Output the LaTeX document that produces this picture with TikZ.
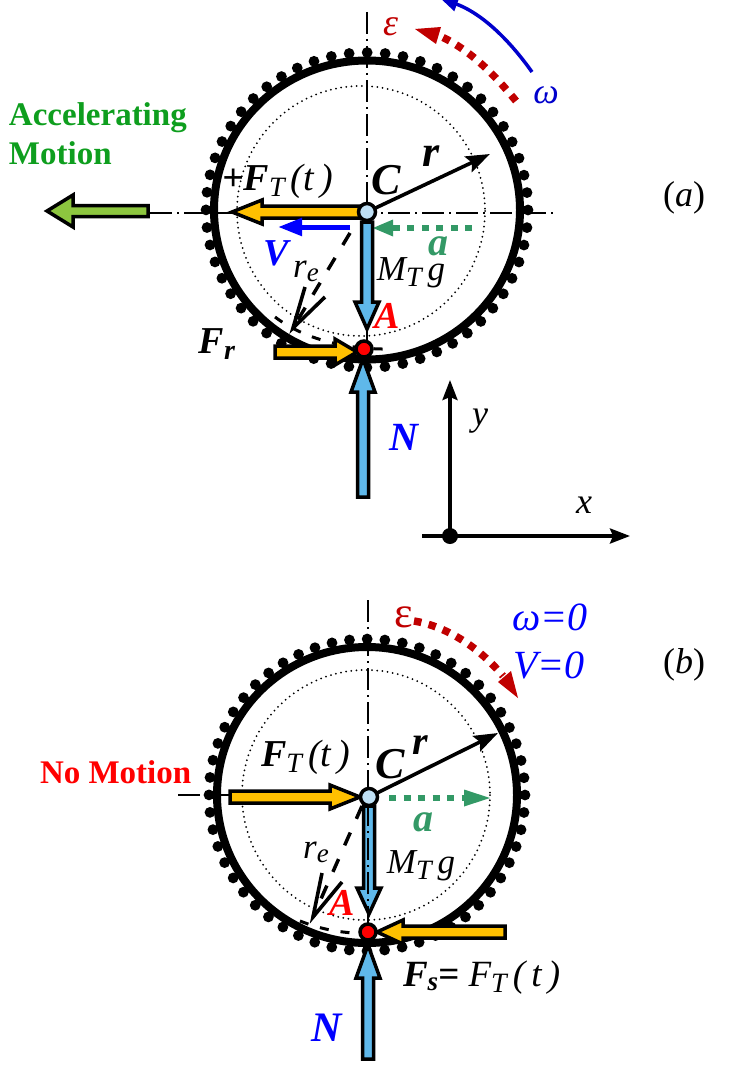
\documentclass[tikz,border=0pt]{standalone}
\usepackage{fontspec}
\setmainfont{Liberation Serif}
\usetikzlibrary{calc,arrows.meta}
\definecolor{orng}{HTML}{FFC000}
\definecolor{skyb}{HTML}{5FB8EA}
\definecolor{palec}{HTML}{BFE0F5}
\definecolor{lgreen}{HTML}{8DC63F}
\definecolor{sgreen}{HTML}{339966}
\definecolor{txgreen}{HTML}{0E9E1E}
\definecolor{dred}{HTML}{C00000}
\definecolor{wblue}{HTML}{0000CC}
\newcommand{\fsz}[1]{\fontsize{#1}{#1}\selectfont}
\newcommand{\lsub}[1]{\raisebox{-6pt}{\fsz{28}\mdseries #1}}
% block arrow: from, to, fill, half shaft, half head, head length
\newcommand{\blockarrow}[6]{%
  \coordinate (hb) at ($(#2)!#6pt!(#1)$);
  \draw[blockline,fill=#3]
    ($(#1)!#4pt!90:(#2)$) -- ($(hb)!#4pt!90:(#2)$) -- ($(hb)!#5pt!90:(#2)$) -- (#2)
    -- ($(hb)!#5pt!-90:(#2)$) -- ($(hb)!#4pt!-90:(#2)$) -- ($(#1)!#4pt!-90:(#2)$) -- cycle;}
\tikzset{
  blockline/.style={draw=black,line width=3.5pt,line join=miter,miter limit=6},
  axisline/.style={line width=1.4pt,dash pattern=on 22pt off 5pt on 2pt off 5pt},
  rimline/.style={line width=8pt},
  innerdots/.style={line width=2pt,line cap=round,dash pattern=on 0pt off 5.2pt},
  rarrow/.style={line width=3.6pt,-{Stealth[length=24pt,width=17pt,inset=4pt]},shorten <=2pt},
  dashline/.style={line width=3.5pt,dash pattern=on 14pt off 15pt},
  arcdash/.style={line width=3pt,dash pattern=on 9pt off 12pt},
  barbs/.style={line width=3.6pt,line join=miter},
  txt/.style={inner sep=0pt,outer sep=0pt,anchor=center},
  hub/.style={fill=palec,draw=black,line width=3.5pt},
  contact/.style={fill=red,draw=black,line width=3.5pt},
  axisarrow/.style={line width=3.4pt,-{Stealth[length=20pt,width=15pt,inset=3pt]}},
  gdash/.style={sgreen,line width=6.5pt,dash pattern=on 7pt off 7.5pt},
  rdash/.style={dred,line width=7.5pt,dash pattern=on 7.5pt off 7.5pt},
}
\begin{document}
\begin{tikzpicture}[x=1pt,y=-1pt]
\useasboundingbox (0,0) rectangle (747,1065);
\clip (0,0) rectangle (747,1065);
%% ---------- wheel (a)
\coordinate (Ca) at (367,212);
\coordinate (Aa) at (364,349);
\foreach \t in {0,6.43,...,359} \fill ($(367,210)+(\t:161 and 157.5)$) circle (5.4);
\draw[rimline] (367,210) ellipse (153 and 149.5);
\draw[innerdots] (361,211) ellipse (124 and 125);
\coordinate (hL) at (150,213); \coordinate (hR) at (555,213);
\coordinate (vT) at (367,12); \coordinate (vB) at (367,345);
\draw[axisline] (hL) -- (hR);
\draw[axisline] (vT) -- (vB);
\coordinate (rTa) at (490,154);
\draw[rarrow] (Ca) -- (rTa);
% green accelerating arrow
\coordinate (g1) at (148,211); \coordinate (g2) at (47,211);
\blockarrow{g1}{g2}{lgreen}{5.5}{16}{26}
% ft orange
\coordinate (ft1) at (367,212); \coordinate (ft2) at (232,212);
\blockarrow{ft1}{ft2}{orng}{6}{12}{30}
% V
\coordinate (v1) at (350,227); \coordinate (v2) at (278,227);
\draw[blue,line width=5pt,-{Triangle[length=24pt,width=17pt]}] (v1) -- (v2);
% a
\coordinate (aa1) at (472,228); \coordinate (aa2) at (373,228);
\draw[gdash] (aa1) -- ($(aa2)!20pt!(aa1)$);
\fill[sgreen] (aa2) -- ($(aa2)+(20,-8.5)$) -- ($(aa2)+(20,8.5)$) -- cycle;
% Mg
\coordinate (m1) at (367,222); \coordinate (m2) at (367,329);
\blockarrow{m1}{m2}{skyb}{5.5}{12}{27}
% re
\coordinate (re1) at (350,233); \coordinate (re2) at (293,328);
\coordinate (reb1) at (305,287); \coordinate (reb2) at (325,297);
\draw[dashline] (re1) -- (re2);
\draw[barbs] (reb1) -- (re2) -- (reb2);
\draw[arcdash] (275,317) .. controls (300,336) and (340,350) .. (392,349);
% Fr
\coordinate (fr1) at (275,352); \coordinate (fr2) at (357,352);
\blockarrow{fr1}{fr2}{orng}{6}{13}{22}
% N
\coordinate (n1) at (363,497); \coordinate (n2) at (363,359);
\blockarrow{n1}{n2}{skyb}{5.5}{12}{33}
\draw[contact] (Aa) circle (8);
\draw[hub] (Ca) circle (8.5);
% omega, epsilon
\coordinate (w1) at (532,72); \coordinate (w2) at (440,-2);
\draw[wblue,line width=3.5pt,-{Triangle[length=18pt,width=14pt]}] (w1) .. controls (505,34) and (478,12) .. (w2);
\coordinate (e1) at (516,101); \coordinate (e2) at (415,29);
\draw[rdash] (e1) .. controls (494,74) and (470,50) .. (440,36);
\fill[dred] (e2) -- (441,27) -- (436,44) -- cycle;
%% texts a
\node[txt,txgreen,anchor=base west] (acc) at (9,125) {\fsz{33}\bfseries Accelerating};
\node[txt,txgreen,anchor=base west] (mot) at (9,164) {\fsz{33}\bfseries Motion};
\node[txt] (lab1) at (684,198) {\fsz{36}\textup{(}\itshape a\textup{)}};
\node[txt,anchor=west] (ftt) at (222,181) {\fsz{38}\bfseries\itshape +F\lsub{T}\,\mdseries (t\,)};
\node[txt] (ca) at (386,180) {\fsz{44}\bfseries\itshape C};
\node[txt] (ra) at (431,156) {\fsz{44}\bfseries\itshape r};
\node[txt,blue] (va) at (276,253) {\fsz{38}\bfseries\itshape V};
\node[txt,sgreen] (aal) at (438,246) {\fsz{40}\bfseries\itshape a};
\node[txt] (rea) at (306,271) {\fsz{35}\itshape r\raisebox{-4pt}{\fsz{27}e}};
\node[txt] (mga) at (411,273) {\fsz{35}\itshape M\lsub{T}\,g};
\node[txt,red] (ala) at (387,316) {\fsz{38}\bfseries\itshape A};
\node[txt] (fra) at (217,344) {\fsz{38}\bfseries\itshape F\raisebox{-6pt}{\fsz{28}r}};
\node[txt,blue] (na) at (404,437) {\fsz{40}\bfseries\itshape N};
\node[txt,dred] (eps1) at (391,27) {\fsz{38}\itshape ε};
\node[txt,wblue] (om1) at (546,95) {\fsz{36}\itshape ω};
%% axes
\coordinate (O) at (450,536);
\coordinate (yT) at (450,380); \coordinate (xT) at (630,536); \coordinate (xL) at (422,536);
\draw[axisarrow] (O) -- (yT);
\draw[axisarrow] (xL) -- (xT);
\fill (O) circle (8);
\node[txt] (yl) at (480,421) {\fsz{36}\itshape y};
\node[txt] (xl) at (584,505) {\fsz{36}\itshape x};
%% ---------- wheel (b)
\coordinate (Cb) at (369,797);
\coordinate (Ab) at (368,932);
\foreach \t in {0,6.43,...,359} \fill ($(367,795)+(\t:158 and 156)$) circle (5.4);
\draw[rimline] (367,795) ellipse (150 and 148);
\draw[innerdots] (366,795) ellipse (124 and 125);
\coordinate (bvT) at (368,600); \coordinate (bvB) at (368,925);
\coordinate (bhL) at (178,795); \coordinate (bhR) at (232,795);
\draw[axisline] (bhL) -- (bhR);
\coordinate (rTb) at (498,733);
\draw[rarrow] (Cb) -- (rTb);
\coordinate (fb1) at (230,797); \coordinate (fb2) at (360,797);
\blockarrow{fb1}{fb2}{orng}{6}{12}{30}
\coordinate (ab1) at (389,798); \coordinate (ab2) at (490,798);
\draw[gdash] (ab1) -- ($(ab2)!20pt!(ab1)$);
\fill[sgreen] (ab2) -- ($(ab2)+(-26,-8.5)$) -- ($(ab2)+(-26,8.5)$) -- cycle;
\coordinate (mb1) at (369,806); \coordinate (mb2) at (369,914);
\blockarrow{mb1}{mb2}{skyb}{5.5}{12}{26}
\draw[axisline] (bvT) -- (bvB);
\coordinate (reb) at (362,806); \coordinate (ret) at (313,917);
\coordinate (rebb1) at (322,873); \coordinate (rebb2) at (342,882);
\draw[dashline] (reb) -- (ret);
\draw[barbs] (rebb1) -- (ret) -- (rebb2);
\draw[arcdash] (300,921) .. controls (318,928) and (335,932) .. (355,933);
\coordinate (fs1) at (505,932); \coordinate (fs2) at (377,932);
\blockarrow{fs1}{fs2}{orng}{6}{12}{26}
\coordinate (nb1) at (368,1059); \coordinate (nb2) at (368,945);
\blockarrow{nb1}{nb2}{skyb}{5.5}{12}{33}
\draw[hub] (Cb) circle (8.5);
\draw[contact] (Ab) circle (8);
\coordinate (ee1) at (414,621); \coordinate (ee2) at (518,698);
\draw[rdash] (ee1) .. controls (445,626) and (478,646) .. (503,676);
\fill[dred] (ee2) -- (498,682) -- (511,671) -- cycle;
%% texts b
\node[txt,dred] (eps2) at (398,617) {\fsz{44} ε};
\node[txt,blue,anchor=west] (om2) at (512,617) {\fsz{40}\itshape ω=0};
\node[txt,blue,anchor=west] (v0) at (513,665) {\fsz{40}\itshape V=0};
\node[txt] (lab2) at (684,665) {\fsz{36}\textup{(}\itshape b\textup{)}};
\node[txt,red,anchor=west] (nom) at (40,772) {\fsz{33}\bfseries No Motion};
\node[txt,anchor=west] (ftb) at (261,757) {\fsz{38}\bfseries\itshape F\lsub{T}\,\mdseries (t\,)};
\node[txt] (cb) at (390,764) {\fsz{44}\bfseries\itshape C};
\node[txt] (rb) at (420,745) {\fsz{40}\bfseries\itshape r};
\node[txt,sgreen] (alb) at (423,822) {\fsz{40}\bfseries\itshape a};
\node[txt] (reb2l) at (316,852) {\fsz{35}\itshape r\raisebox{-4pt}{\fsz{27}e}};
\node[txt] (mgb) at (421,866) {\fsz{35}\itshape M\lsub{T}\,g};
\node[txt,red] (alb2) at (342,903) {\fsz{38}\bfseries\itshape A};
\node[txt,anchor=west] (fs) at (403,978) {\fsz{37}\itshape\bfseries F\raisebox{-4pt}{\fsz{27}s}=\mdseries\ F\lsub{T}\,(\,t\,)};
\node[txt,blue] (nb) at (327,1028) {\fsz{42}\bfseries\itshape N};
\end{tikzpicture}
\end{document}
